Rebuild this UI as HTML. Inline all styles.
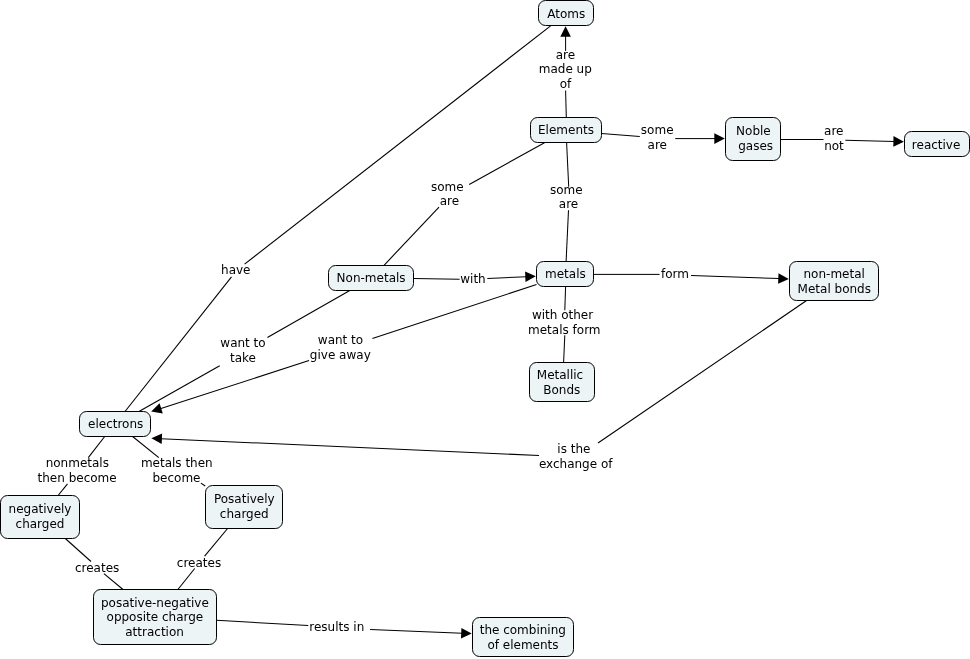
<!DOCTYPE html>
<html lang="en">
<head>
<meta charset="utf-8">
<title>Atoms concept map</title>
<style>
html,body{margin:0;padding:0;background:#fff;}
body{width:970px;height:659px;overflow:hidden;}
svg{display:block;will-change:transform;}
text{font-family:"DejaVu Sans","Liberation Sans",sans-serif;font-size:12px;fill:#000;text-anchor:middle;}
.n{fill:#edf4f6;stroke:#000;stroke-width:1;}
.l{stroke:#000;fill:none;}
.a{fill:#000;stroke:none;}
</style>
</head>
<body>
<svg width="970" height="659" viewBox="0 0 970 659">
<rect x="0" y="0" width="970" height="659" fill="#fff"/>
<g id="edges">
<line class="l" stroke-width="1.01" x1="566.3" y1="117.5" x2="565.6" y2="90.4"/>
<line class="l" stroke-width="1.00" x1="565.6" y1="50.9" x2="565.6" y2="35.7"/>
<polygon class="a" points="565.6,26.2 570.9,36.7 560.3,36.7"/>
<line class="l" stroke-width="1.10" x1="125.0" y1="411.5" x2="231.5" y2="276.8"/>
<line class="l" stroke-width="1.10" x1="244.6" y1="264.1" x2="550.6" y2="25.9"/>
<line class="l" stroke-width="1.03" x1="601.5" y1="133.4" x2="639.8" y2="136.5"/>
<line class="l" stroke-width="1.00" x1="675.2" y1="138.6" x2="715.3" y2="138.6"/>
<polygon class="a" points="724.8,138.6 714.3,143.9 714.3,133.3"/>
<line class="l" stroke-width="1.00" x1="780.5" y1="139.5" x2="823.5" y2="139.5"/>
<line class="l" stroke-width="1.01" x1="845.3" y1="140.2" x2="894.4" y2="141.5"/>
<polygon class="a" points="903.9,141.7 893.3,146.7 893.5,136.1"/>
<line class="l" stroke-width="1.10" x1="544.5" y1="142.7" x2="469.2" y2="184.5"/>
<line class="l" stroke-width="1.10" x1="439.0" y1="207.2" x2="384.0" y2="265.3"/>
<line class="l" stroke-width="1.02" x1="566.6" y1="142.5" x2="568.7" y2="186.7"/>
<line class="l" stroke-width="1.02" x1="568.5" y1="210.2" x2="566.1" y2="261.5"/>
<line class="l" stroke-width="1.01" x1="413.5" y1="278.5" x2="459.6" y2="279.3"/>
<line class="l" stroke-width="1.02" x1="487.3" y1="278.4" x2="526.3" y2="276.7"/>
<polygon class="a" points="535.8,276.3 525.5,282.0 525.1,271.5"/>
<line class="l" stroke-width="1.00" x1="593.5" y1="274.4" x2="659.6" y2="274.4"/>
<line class="l" stroke-width="1.01" x1="691.0" y1="275.4" x2="779.3" y2="278.6"/>
<polygon class="a" points="788.8,278.9 778.1,283.8 778.5,273.2"/>
<line class="l" stroke-width="1.01" x1="565.6" y1="286.5" x2="564.8" y2="310.2"/>
<line class="l" stroke-width="1.02" x1="564.8" y1="335.3" x2="563.6" y2="362.5"/>
<line class="l" stroke-width="1.10" x1="349.8" y1="290.5" x2="267.4" y2="337.5"/>
<line class="l" stroke-width="1.10" x1="219.7" y1="365.7" x2="139.4" y2="411.2"/>
<line class="l" stroke-width="1.10" x1="536.5" y1="284.5" x2="372.4" y2="338.6"/>
<line class="l" stroke-width="1.10" x1="309.0" y1="360.6" x2="160.2" y2="408.7"/>
<polygon class="a" points="151.2,411.6 159.6,403.3 162.8,413.4"/>
<line class="l" stroke-width="1.10" x1="806.6" y1="300.5" x2="598.0" y2="443.0"/>
<line class="l" stroke-width="1.02" x1="539.0" y1="455.5" x2="160.9" y2="438.7"/>
<polygon class="a" points="151.4,438.3 162.1,433.5 161.7,444.1"/>
<line class="l" stroke-width="1.10" x1="104.7" y1="436.5" x2="88.3" y2="457.7"/>
<line class="l" stroke-width="1.10" x1="67.5" y1="483.9" x2="58.1" y2="495.5"/>
<line class="l" stroke-width="1.10" x1="132.6" y1="436.5" x2="158.8" y2="457.6"/>
<line class="l" stroke-width="1.10" x1="200.9" y1="483.1" x2="205.2" y2="486.0"/>
<line class="l" stroke-width="1.10" x1="65.3" y1="538.5" x2="91.0" y2="561.5"/>
<line class="l" stroke-width="1.10" x1="103.9" y1="573.7" x2="123.0" y2="589.5"/>
<line class="l" stroke-width="1.10" x1="227.6" y1="528.5" x2="204.6" y2="556.1"/>
<line class="l" stroke-width="1.10" x1="194.7" y1="568.5" x2="177.9" y2="589.5"/>
<line class="l" stroke-width="1.02" x1="216.5" y1="620.2" x2="308.2" y2="625.6"/>
<line class="l" stroke-width="1.02" x1="370.1" y1="629.4" x2="462.2" y2="633.2"/>
<polygon class="a" points="471.7,633.6 461.0,638.5 461.4,627.9"/>
</g>
<g id="nodes">
<rect class="n" x="538.5" y="0.5" width="55.0" height="25.0" rx="7" ry="7"/>
<text x="566.2" y="18.1">Atoms</text>
<rect class="n" x="530.5" y="117.5" width="71.0" height="25.0" rx="7" ry="7"/>
<text x="566.0" y="134.4">Elements</text>
<rect class="n" x="725.5" y="117.5" width="55.0" height="43.0" rx="7" ry="7"/>
<text x="753.4" y="135.3">Noble</text>
<text x="755.6" y="149.9">gases</text>
<rect class="n" x="904.5" y="131.5" width="65.0" height="25.0" rx="7" ry="7"/>
<text x="936.1" y="149.0">reactive</text>
<rect class="n" x="328.5" y="265.5" width="85.0" height="25.0" rx="7" ry="7"/>
<text x="371.1" y="282.4">Non-metals</text>
<rect class="n" x="536.5" y="261.5" width="57.0" height="25.0" rx="7" ry="7"/>
<text x="565.4" y="278.2">metals</text>
<rect class="n" x="789.5" y="261.5" width="89.0" height="39.0" rx="7" ry="7"/>
<text x="834.2" y="277.8">non-metal</text>
<text x="834.3" y="292.8">Metal bonds</text>
<rect class="n" x="529.5" y="362.5" width="65.0" height="39.0" rx="7" ry="7"/>
<text x="560.0" y="378.9">Metallic</text>
<text x="561.8" y="394.0">Bonds</text>
<rect class="n" x="79.5" y="411.5" width="71.0" height="25.0" rx="7" ry="7"/>
<text x="115.7" y="428.2">electrons</text>
<rect class="n" x="0.5" y="495.5" width="79.0" height="43.0" rx="7" ry="7"/>
<text x="40.0" y="512.9">negatively</text>
<text x="40.0" y="528.1">charged</text>
<rect class="n" x="205.5" y="485.5" width="77.0" height="43.0" rx="7" ry="7"/>
<text x="244.3" y="503.2">Posatively</text>
<text x="244.3" y="517.7">charged</text>
<rect class="n" x="93.5" y="589.5" width="123.0" height="55.0" rx="7" ry="7"/>
<text x="154.9" y="607.0">posative-negative</text>
<text x="154.9" y="621.1">opposite charge</text>
<text x="154.6" y="636.0">attraction</text>
<rect class="n" x="472.5" y="617.5" width="101.0" height="39.0" rx="7" ry="7"/>
<text x="522.8" y="634.0">the combining</text>
<text x="523.0" y="648.8">of elements</text>
</g>
<g id="labels">
<text x="565.4" y="58.6">are</text>
<text x="565.3" y="73.3">made up</text>
<text x="565.5" y="87.9">of</text>
<text x="235.8" y="274.3">have</text>
<text x="657.2" y="133.9">some</text>
<text x="657.3" y="148.5">are</text>
<text x="833.8" y="135.3">are</text>
<text x="834.0" y="149.7">not</text>
<text x="447.3" y="190.9">some</text>
<text x="449.4" y="205.2">are</text>
<text x="566.3" y="193.8">some</text>
<text x="568.5" y="208.4">are</text>
<text x="473.0" y="283.0">with</text>
<text x="675.0" y="278.2">form</text>
<text x="562.5" y="319.0">with other</text>
<text x="564.3" y="333.8">metals form</text>
<text x="243.0" y="347.0">want to</text>
<text x="243.0" y="362.0">take</text>
<text x="340.5" y="344.0">want to</text>
<text x="340.3" y="359.0">give away</text>
<text x="573.9" y="453.2">is the</text>
<text x="575.7" y="467.8">exchange of</text>
<text x="77.3" y="467.1">nonmetals</text>
<text x="77.1" y="481.7">then become</text>
<text x="176.8" y="467.1">metals then</text>
<text x="176.5" y="481.7">become</text>
<text x="97.1" y="572.0">creates</text>
<text x="199.0" y="567.0">creates</text>
<text x="336.8" y="631.4">results in</text>
</g>
</svg>
</body>
</html>
